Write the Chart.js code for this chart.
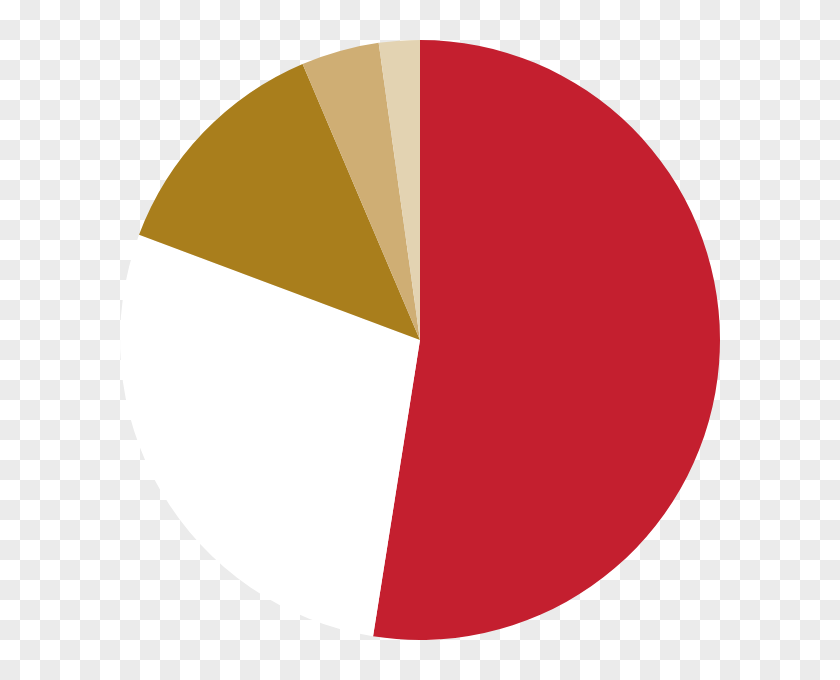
<!DOCTYPE html>
<html>
<head>
<meta charset="utf-8">
<script src="https://cdn.jsdelivr.net/npm/chart.js@4"></script>
<style>
html,body{margin:0;padding:0;}
body{width:840px;height:680px;overflow:hidden;
background-color:#ffffff;
background-image:
 linear-gradient(45deg,#ebebeb 25%,transparent 25%,transparent 75%,#ebebeb 75%),
 linear-gradient(45deg,#ebebeb 25%,transparent 25%,transparent 75%,#ebebeb 75%);
background-size:40px 40px;background-position:0 0,20px 20px;}
#wrap{width:840px;height:680px;position:relative;}
</style>
</head>
<body>
<div id="wrap"><canvas id="c"></canvas></div>
<script>
const categories = ["A", "B", "C", "D", "E"];
const values = [52.5, 28.2, 12.9, 4.2, 2.2];
const colors = ["#c41f2f", "#ffffff", "#a97e1c", "#cfae74", "#e3d3b2"];

new Chart(document.getElementById('c'), {
  type: 'pie',
  data: {
    labels: categories,
    datasets: [{ data: values, backgroundColor: colors, borderWidth: 0 }]
  },
  options: {
    responsive: true,
    maintainAspectRatio: false,
    animation: false,
    layout: { padding: { top: 40, bottom: 40, left: 0, right: 0 } },
    plugins: { legend: { display: false }, tooltip: { enabled: false } }
  }
});
</script>
</body>
</html>
